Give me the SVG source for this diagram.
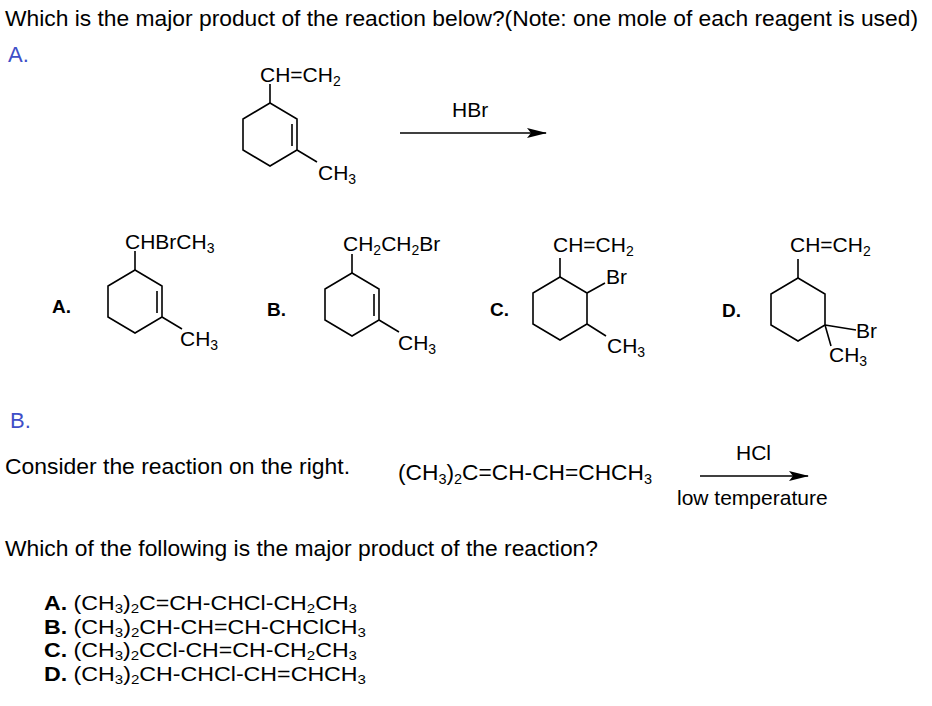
<svg xmlns="http://www.w3.org/2000/svg" width="932" height="706" viewBox="0 0 932 706">
<style>
text{font-family:"Liberation Sans",Arial,sans-serif;fill:#000}
.q{font-size:22px}
.blue{fill:#3f4fc8;font-size:22px}
.c{font-size:21px}
.p{font-size:22px}
.o{font-size:20px}
.b{font-weight:bold;font-size:19px}
.l{fill:none;stroke:#000;stroke-width:1.6}
.s{font-size:14px;baseline-shift:-4px}
.so{font-size:13px;baseline-shift:-3px}
</style>
<defs>
<path id="ring" class="l" d="M0,0 L27,16 L27,47 L0,63 L-27,47 L-27,16 Z"/>
<path id="db" class="l" d="M22,21 L22,43"/>
<marker id="ah" markerWidth="20" markerHeight="10" refX="19" refY="5" orient="auto" markerUnits="userSpaceOnUse"><path d="M0,0 L20,5 L0,10 L4,5 Z" fill="#000"/></marker>
</defs>
<text class="q" x="5" y="26" textLength="913" lengthAdjust="spacingAndGlyphs">Which is the major product of the reaction below?(Note: one mole of each reagent is used)</text>
<text class="blue" x="8" y="62">A.</text>
<g id="start">
<use href="#ring" x="270" y="103"/><use href="#db" x="270" y="103"/>
<path class="l" d="M270,103 L270,84 M297,150 L317,162"/>
<text class="c" x="260" y="82">CH=CH<tspan class="s">2</tspan></text>
<text class="c" x="318" y="180">CH<tspan class="s">3</tspan></text>
</g>
<g id="connectors">
<path class="l" d="M400,133 L546,133" marker-end="url(#ah)"/>
<path class="l" d="M700,476 L808,476" marker-end="url(#ah)"/>
</g>
<text class="c" x="452" y="117">HBr</text>
<g id="optA">
<text class="b" x="52" y="313">A.</text>
<use href="#ring" x="135" y="270"/><use href="#db" x="135" y="270"/>
<path class="l" d="M135,270 L135,251 M162,317 L182,329"/>
<text class="c" x="125" y="249">CHBrCH<tspan class="s">3</tspan></text>
<text class="c" x="180" y="346">CH<tspan class="s">3</tspan></text>
</g>
<g id="optB">
<text class="b" x="267" y="316">B.</text>
<use href="#ring" x="352" y="273"/><use href="#db" x="352" y="273"/>
<path class="l" d="M352,273 L352,254 M379,320 L399,332"/>
<text class="c" x="343" y="251">CH<tspan class="s">2</tspan>CH<tspan class="s">2</tspan>Br</text>
<text class="c" x="398" y="350">CH<tspan class="s">3</tspan></text>
</g>
<g id="optC">
<text class="b" x="490" y="316">C.</text>
<use href="#ring" x="560" y="277"/>
<path class="l" d="M560,277 L560,258 M587,293 L605,283 M587,324 L606,336"/>
<text class="c" x="553" y="252">CH=CH<tspan class="s">2</tspan></text>
<text class="c" x="606" y="284">Br</text>
<text class="c" x="607" y="353">CH<tspan class="s">3</tspan></text>
</g>
<g id="optD">
<text class="b" x="722" y="317">D.</text>
<use href="#ring" x="798" y="278"/>
<path class="l" d="M798,278 L798,259 M825,325 L856,330 M825,325 L831,346"/>
<text class="c" x="790" y="252">CH=CH<tspan class="s">2</tspan></text>
<text class="c" x="856" y="338">Br</text>
<text class="c" x="829" y="362">CH<tspan class="s">3</tspan></text>
</g>
<text class="blue" x="10" y="428">B.</text>
<text class="p" x="5" y="474" textLength="345" lengthAdjust="spacingAndGlyphs">Consider the reaction on the right.</text>
<text class="p" x="398" y="480" textLength="254" lengthAdjust="spacingAndGlyphs">(CH<tspan class="s">3</tspan>)<tspan class="s">2</tspan>C=CH-CH=CHCH<tspan class="s">3</tspan></text>
<text class="c" x="736" y="460">HCl</text>
<text class="c" x="677" y="505">low temperature</text>
<text class="p" x="5" y="556" textLength="593" lengthAdjust="spacingAndGlyphs">Which of the following is the major product of the reaction?</text>
<text class="o" x="44" y="610" textLength="313" lengthAdjust="spacingAndGlyphs"><tspan font-weight="bold">A.</tspan> (CH<tspan class="so">3</tspan>)<tspan class="so">2</tspan>C=CH-CHCl-CH<tspan class="so">2</tspan>CH<tspan class="so">3</tspan></text>
<text class="o" x="44" y="634" textLength="322" lengthAdjust="spacingAndGlyphs"><tspan font-weight="bold">B.</tspan> (CH<tspan class="so">3</tspan>)<tspan class="so">2</tspan>CH-CH=CH-CHClCH<tspan class="so">3</tspan></text>
<text class="o" x="44" y="657" textLength="313" lengthAdjust="spacingAndGlyphs"><tspan font-weight="bold">C.</tspan> (CH<tspan class="so">3</tspan>)<tspan class="so">2</tspan>CCl-CH=CH-CH<tspan class="so">2</tspan>CH<tspan class="so">3</tspan></text>
<text class="o" x="44" y="681" textLength="322" lengthAdjust="spacingAndGlyphs"><tspan font-weight="bold">D.</tspan> (CH<tspan class="so">3</tspan>)<tspan class="so">2</tspan>CH-CHCl-CH=CHCH<tspan class="so">3</tspan></text>
</svg>
